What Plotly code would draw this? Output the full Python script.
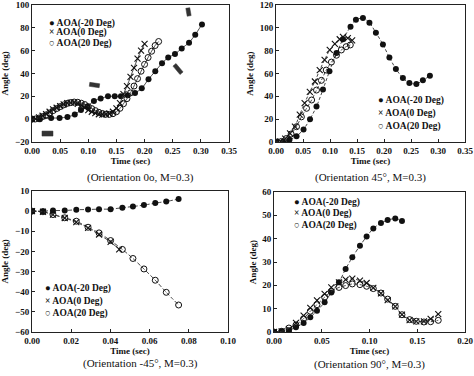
import math
import plotly.graph_objects as go

W, H = 474, 376
FONT = "Liberation Serif"

# ---------------- data ----------------
# Orientation 0o
t1_m20 = [0, 0.014, 0.034, 0.049, 0.063, 0.076, 0.087, 0.098, 0.110, 0.122, 0.135, 0.147, 0.158, 0.170,
          0.183, 0.195, 0.207, 0.219, 0.231, 0.242, 0.254, 0.266, 0.279, 0.290, 0.302]
a1_m20 = [0, 0, 1, 1, 2, 4, 8, 11, 16, 18, 20, 20, 20, 21, 23, 27, 35, 42, 49, 54, 57, 62, 67, 74, 83]
t1_0 = [0, 0.00625, 0.0125, 0.01875, 0.025, 0.03125, 0.0375, 0.04375, 0.05, 0.05625, 0.0625, 0.06875,
        0.075, 0.08125, 0.0875, 0.09375, 0.1, 0.10625, 0.1125, 0.11875, 0.125, 0.13125, 0.1375, 0.14375,
        0.15, 0.15625, 0.1625, 0.16875, 0.175, 0.18125, 0.1875, 0.19375, 0.2]
a1_0 = [0, 0.3, 1.5, 3, 4.5, 6.5, 8.5, 10, 11.5, 13, 14, 14.5, 14.5, 13.5, 12, 10, 8, 6.5, 5.2, 4.3,
        4, 4.2, 5, 6.5, 9.5, 14, 22, 29, 37, 45, 53, 60, 66]
t1_20 = [0, 0.00625, 0.0125, 0.01875, 0.025, 0.03125, 0.0375, 0.04375, 0.05, 0.05625, 0.0625, 0.06875,
         0.075, 0.08125, 0.0875, 0.09375, 0.1, 0.10625, 0.1125, 0.11875, 0.125, 0.13125, 0.1375, 0.14375,
         0.15, 0.15625, 0.1625, 0.16875, 0.175, 0.18125, 0.1875, 0.19375, 0.2, 0.20625, 0.2125, 0.21875,
         0.225]
a1_20 = [0, 0.2, 1, 2.3, 3.8, 5.5, 7.5, 9.3, 11, 12.5, 13.8, 14.6, 15, 14.8, 14, 12.8, 11, 9.2, 7.5, 6,
         5, 4.3, 4.2, 4.8, 6.5, 9.5, 13.5, 18, 23, 29, 35.5, 42, 48, 54, 59.5, 64.5, 68]

# Orientation 45
t2_m20 = [0, 0.013, 0.025, 0.038, 0.051, 0.063, 0.075, 0.087, 0.099, 0.112, 0.124, 0.138, 0.148, 0.161,
          0.173, 0.185, 0.198, 0.210, 0.222, 0.235, 0.247, 0.260, 0.272, 0.285]
a2_m20 = [0, 0.3, 2, 5, 11, 20, 31, 46, 62, 78, 90, 101, 107, 108.6, 104.5, 95.8, 85.5, 74, 64, 56,
          51.7, 50.8, 54, 58]
t2_0 = [0, 0.008, 0.017, 0.026, 0.035, 0.044, 0.053, 0.0626, 0.072, 0.081, 0.090, 0.0995, 0.109,
        0.118, 0.124, 0.133, 0.141]
a2_0 = [0, 0.5, 3, 7.6, 13.4, 24, 34, 44, 53, 63, 72, 80.6, 86, 90, 92, 91, 89]
t2_20 = [0, 0.010, 0.019, 0.028, 0.038, 0.047, 0.0566, 0.066, 0.075, 0.084, 0.093, 0.1026, 0.112,
         0.121, 0.130, 0.1376]
a2_20 = [0, 0.5, 3, 7, 13.4, 22, 29.5, 36.8, 45.5, 54, 63, 70, 76, 80.6, 83.5, 85]

# Orientation -45
t3_m20 = [0, 0.0056, 0.0107, 0.0167, 0.0226, 0.0286, 0.0342, 0.0401, 0.0461, 0.0515, 0.0571, 0.0629,
          0.0685, 0.0748]
a3_m20 = [0, 0, 0.3, 0.3, 0.7, 0.8, 1, 1, 1.7, 2.3, 3, 4, 4.8, 6]
t3_0 = [0, 0.0056, 0.0107, 0.0167, 0.0226, 0.0286, 0.0342, 0.0401, 0.0445]
a3_0 = [0, -0.3, -1.7, -3.4, -5.5, -8.3, -11.6, -15.3, -19]
t3_20 = [0, 0.0056, 0.0107, 0.0167, 0.0226, 0.0286, 0.0342, 0.0401, 0.0461, 0.0515, 0.0571, 0.0629,
         0.0685, 0.0748]
a3_20 = [0, -0.3, -1.7, -3.3, -5, -8, -10.8, -14.6, -19, -23.5, -28.7, -34.3, -40.3, -46.6]

# Orientation 90
t4 = [0, 0.008, 0.0156, 0.023, 0.031, 0.038, 0.045, 0.053, 0.060, 0.068, 0.075, 0.082, 0.090, 0.097,
      0.104, 0.112, 0.119, 0.127, 0.134, 0.142, 0.149, 0.157, 0.164, 0.172]
a4_m20 = [0, 0.3, 0.7, 2, 3.9, 6.3, 9.1, 12.7, 16.9, 21.3, 27, 32, 37, 40.9, 44.4, 46.7, 48, 48.6, 47.6]
a4_0 = [0, 0.3, 1.1, 3.9, 7, 10.3, 13.6, 16.3, 19.1, 21.3, 22.4, 22.9, 22, 21, 18.9, 16.6, 13.7, 11,
        7.4, 5.1, 4.6, 4.6, 5.6, 7.7]
a4_20 = [0, 0.3, 1.7, 3, 5.7, 8.9, 11.7, 14.9, 17.4, 19.1, 19.9, 20.6, 20.3, 19.6, 18.6, 16.7, 14.1, 11,
         7.4, 5.3, 4.6, 4.3, 4.4, 5]

series_names = ["AOA(-20 Deg)", "AOA(0 Deg)", "AOA(20 Deg)"]
captions = ["(Orientation 0o, M=0.3)", "(Orientation 45°, M=0.3)",
            "(Orientation -45°, M=0.3)", "(Orientation 90°, M=0.3)"]
x_title = "Time (sec)"
y_title = "Angle (deg)"

# ---------------- layout helpers ----------------
def px_x(p):
    return p / W

def px_y(p):
    return 1 - p / H

# plot areas in pixels: (left, right, top, bottom)
boxes = [(32, 229, 5, 142), (276, 465, 5, 142), (32, 228, 191, 332), (274, 465, 192, 332)]
xranges = [[0, 0.35], [0, 0.35], [0, 0.10], [0, 0.20]]
yranges = [[-20, 100], [0, 120], [-60, 10], [0, 60]]
xdt = [0.05, 0.05, 0.02, 0.05]
ydt = [20, 20, 10, 10]
dashes = ["solid", "3px,2px", "4px,2px", "4px,2px"]
caption_y = [177, 178, 363, 364]

fig = go.Figure()

marker_styles = [
    dict(symbol="circle", size=6, color="#111111"),
    dict(symbol="x-thin-open", size=6, color="#111111", line=dict(width=1.1, color="#111111")),
    dict(symbol="circle-open", size=6, color="#111111", line=dict(width=1, color="#111111")),
]

panels = [
    [(t1_m20, a1_m20), (t1_0, a1_0), (t1_20, a1_20)],
    [(t2_m20, a2_m20), (t2_0, a2_0), (t2_20, a2_20)],
    [(t3_m20, a3_m20), (t3_0, a3_0), (t3_20, a3_20)],
    [(t4[:len(a4_m20)], a4_m20), (t4, a4_0), (t4, a4_20)],
]

for i, panel in enumerate(panels):
    xa = "x" if i == 0 else f"x{i+1}"
    ya = "y" if i == 0 else f"y{i+1}"
    for j, (tx, ay) in enumerate(panel):
        fig.add_trace(go.Scatter(
            x=tx, y=ay, mode="lines+markers", name=series_names[j], showlegend=False,
            line=dict(color="#333333", width=0.9, dash=dashes[i], shape="spline", smoothing=0.6),
            marker=marker_styles[j], xaxis=xa, yaxis=ya))

layout = dict(
    width=W, height=H, margin=dict(l=0, r=0, t=0, b=0, pad=0, autoexpand=False),
    paper_bgcolor="white", plot_bgcolor="white", showlegend=False,
    font=dict(family=FONT, color="#111111"),
)

tickfont = dict(family=FONT, size=9, color="#111", weight="bold")
titlefont = dict(family=FONT, size=9, color="#111", weight="bold")

annotations = []
for i in range(4):
    l, r, t, b = boxes[i]
    xk = "xaxis" if i == 0 else f"xaxis{i+1}"
    yk = "yaxis" if i == 0 else f"yaxis{i+1}"
    anchor_x = "y" if i == 0 else f"y{i+1}"
    anchor_y = "x" if i == 0 else f"x{i+1}"
    layout[xk] = dict(
        domain=[px_x(l), px_x(r)], range=xranges[i], anchor=anchor_x,
        dtick=xdt[i], tick0=0, tickformat=".2f", ticks="inside", ticklen=3, tickcolor="#222",
        showline=True, linecolor="#222", linewidth=1, mirror=True, showgrid=False, zeroline=False,
        tickfont=tickfont, ticklabeloverflow="allow", automargin=False,
        title=dict(text=x_title, font=titlefont, standoff=0),
    )
    layout[yk] = dict(
        domain=[px_y(b), px_y(t)], range=yranges[i], anchor=anchor_y,
        dtick=ydt[i], ticks="inside", ticklen=3, tickcolor="#222",
        showline=True, linecolor="#222", linewidth=1, mirror=True, showgrid=False, zeroline=False,
        tickfont=tickfont, ticklabeloverflow="allow", automargin=False,
        title=dict(text=y_title, font=titlefont, standoff=4),
    )
    cx = (l + r) / 2
    annotations.append(dict(
        text=captions[i], xref="paper", yref="paper", x=px_x(cx + 10 if i in (0, 2) else cx),
        y=px_y(caption_y[i]), xanchor="center", yanchor="middle", showarrow=False,
        font=dict(family=FONT, size=11, color="#111")))

# legends (glyph + label), one block per panel
legend_pos = [(47, [23, 33, 43]), (376, [100, 113.5, 127]), (43, [288, 301, 313]), (292, [202, 213.5, 225])]
glyphs = ["●", "×", "○"]
for i, (lx, rows) in enumerate(legend_pos):
    for j in range(3):
        annotations.append(dict(
            text="<b>" + glyphs[j] + " " + series_names[j] + "</b>", xref="paper", yref="paper",
            x=px_x(lx), y=px_y(rows[j]), xanchor="left", yanchor="middle", showarrow=False,
            font=dict(family=FONT, size=9.5, color="#111")))

layout["annotations"] = annotations

# small aircraft icons drawn in panel 1 (center time, center angle, length px, width px, angle deg)
icons = [(0.0275, -12.6, 11, 5, 0), (0.111, 29.9, 10, 4, -8), (0.2594, 43.9, 11, 4, -50),
         (0.278, 93.9, 8, 4, -80)]
sx = 0.35 / (boxes[0][1] - boxes[0][0])
sy = 120 / (boxes[0][3] - boxes[0][2])
shapes = []
for (cx, cy, ln, wd, ang) in icons:
    a = math.radians(ang)
    ux, uy = math.cos(a), math.sin(a)
    nx, ny = -uy, ux
    pts = []
    for s1, s2 in [(-1, -1), (1, -1), (1, 1), (-1, 1)]:
        px = s1 * ln / 2 * ux + s2 * wd / 2 * nx
        py = s1 * ln / 2 * uy + s2 * wd / 2 * ny
        pts.append((cx + px * sx, cy + py * sy))
    path = "M " + " L ".join(f"{p[0]:.5f},{p[1]:.3f}" for p in pts) + " Z"
    shapes.append(dict(type="path", path=path, xref="x", yref="y", fillcolor="#333333",
                       line=dict(color="#333333", width=0.5)))
layout["shapes"] = shapes

fig.update_layout(**layout)
fig.write_html("out.html", config={"displayModeBar": False},
               post_script="document.body.style.margin='0';document.body.style.overflow='hidden';")
